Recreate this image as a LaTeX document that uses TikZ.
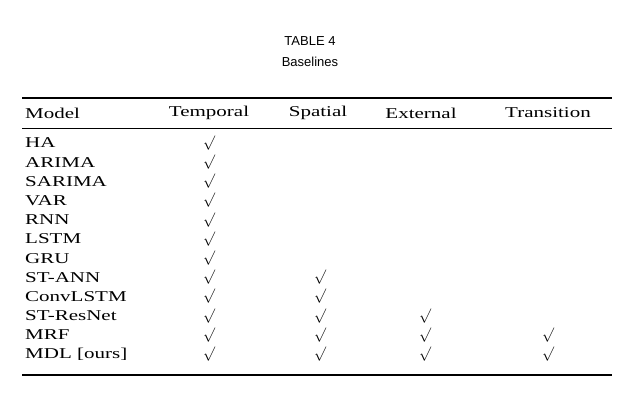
\documentclass[tikz,border=0pt]{standalone}
\usepackage{fontspec}
\setmainfont{Liberation Serif}
\newfontfamily\ttl{Liberation Sans}
\newcommand{\wide}[1]{\scalebox{1.4}[1]{#1}}
\begin{document}
\begin{tikzpicture}[x=1pt,y=-1pt,
  cell/.style={inner sep=0pt,font=\fontsize{15}{17}\selectfont},
  lft/.style={cell,anchor=west},
  ck/.style={cell}]
\useasboundingbox (0,0) rectangle (620,401);
\node[font=\ttl\fontsize{13}{15}\selectfont] (t1) at (310,41) {TABLE 4};
\node[font=\ttl\fontsize{13}{15}\selectfont] (t2) at (310,62) {Baselines};
\draw[line width=1.1pt] (22,98) -- (612,98);
\draw[line width=0.5pt] (22,128) -- (612,128);
\draw[line width=1.1pt] (22,375) -- (612,375);
\node[lft] (hm) at (25,113) {\wide{Model}};
\node[cell] (ht) at (209,113) {\wide{Temporal}};
\node[cell] (hs) at (318,113) {\wide{Spatial}};
\node[cell] (he) at (421,113) {\wide{External}};
\node[cell] (hx) at (548,113) {\wide{Transition}};
\foreach \n/\t/\s/\e/\x [count=\i from 0] in {HA/1/0/0/0,ARIMA/1/0/0/0,SARIMA/1/0/0/0,VAR/1/0/0/0,RNN/1/0/0/0,LSTM/1/0/0/0,GRU/1/0/0/0,ST-ANN/1/1/0/0,ConvLSTM/1/1/0/0,ST-ResNet/1/1/1/0,MRF/1/1/1/1,MDL [ours]/1/1/1/1}{
  \pgfmathsetmacro\yy{143+19.2*\i}
  \node[lft] (m\i) at (25,\yy) {\wide{\n}};
  \ifnum\t=1 \node[ck] (ct\i) at (209,\yy) {$\surd$};\fi
  \ifnum\s=1 \node[ck] (cs\i) at (320,\yy) {$\surd$};\fi
  \ifnum\e=1 \node[ck] (ce\i) at (425,\yy) {$\surd$};\fi
  \ifnum\x=1 \node[ck] (cx\i) at (548,\yy) {$\surd$};\fi
}
\end{tikzpicture}
\end{document}
